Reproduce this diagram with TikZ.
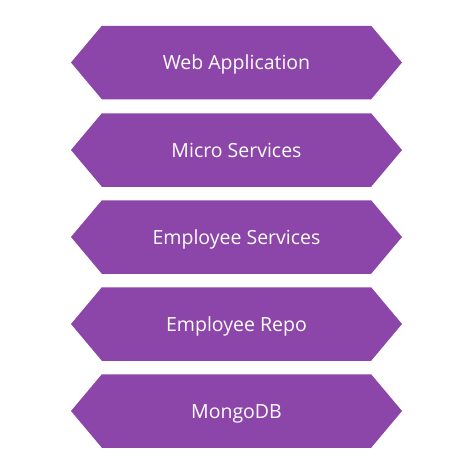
\documentclass[tikz,border=0pt]{standalone}
\usepackage{fontspec}
\setmainfont{Open Sans}
\usetikzlibrary{shapes.symbols}
\definecolor{layerpurple}{HTML}{8C45A8}

\tikzstyle{layer} = [signal, signal to=west and east, signal pointer angle=100,
  fill=layerpurple, text=white, minimum width=331pt, minimum height=73.5pt,
  inner sep=0pt, text height=14pt, text depth=0pt,
  font=\fontsize{19.5}{22}\selectfont]

\begin{document}
\begin{tikzpicture}
    \useasboundingbox (0pt, 0pt) rectangle (474pt, -474pt);
    \node[layer] (web) at (236.5pt, -62.5pt) {Web Application};
    \node[layer] (micro) at (236.5pt, -150pt) {Micro Services};
    \node[layer] (empserv) at (236.5pt, -237pt) {Employee Services};
    \node[layer] (emprepo) at (236.5pt, -324pt) {Employee Repo};
    \node[layer] (mongo) at (236.5pt, -411pt) {MongoDB};
  \end{tikzpicture}
\end{document}
